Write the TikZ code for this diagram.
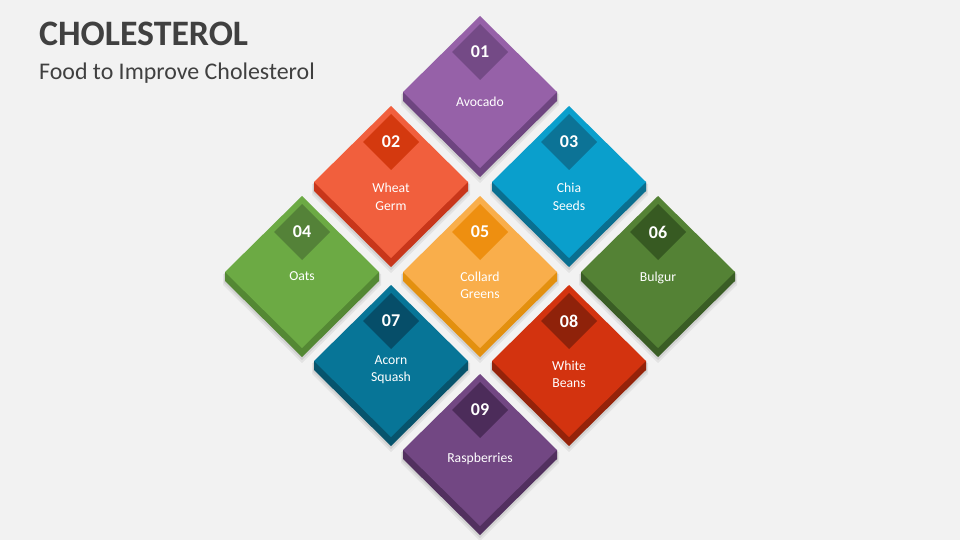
\documentclass[tikz,border=0pt]{standalone}
\usepackage{fontspec}
\setmainfont{Carlito}
\definecolor{bg}{HTML}{F2F2F2}
\definecolor{ttl}{HTML}{404040}
\definecolor{faceA}{HTML}{9661A8}\definecolor{extA}{HTML}{6E4580}\definecolor{smA}{HTML}{744A86}
\definecolor{faceB}{HTML}{F15F3D}\definecolor{extB}{HTML}{C8361A}\definecolor{smB}{HTML}{D4390F}
\definecolor{faceC}{HTML}{0A9FCC}\definecolor{extC}{HTML}{0A6F90}\definecolor{smC}{HTML}{0C7396}
\definecolor{faceD}{HTML}{6CAA44}\definecolor{extD}{HTML}{548834}\definecolor{smD}{HTML}{548238}
\definecolor{faceE}{HTML}{F9AE4B}\definecolor{extE}{HTML}{E3900F}\definecolor{smE}{HTML}{EE8F10}
\definecolor{faceF}{HTML}{548235}\definecolor{extF}{HTML}{3A5D25}\definecolor{smF}{HTML}{375A22}
\definecolor{faceG}{HTML}{077597}\definecolor{extG}{HTML}{07546D}\definecolor{smG}{HTML}{064E69}
\definecolor{faceH}{HTML}{D3330F}\definecolor{extH}{HTML}{95230A}\definecolor{smH}{HTML}{8F220A}
\definecolor{faceI}{HTML}{724783}\definecolor{extI}{HTML}{52305F}\definecolor{smI}{HTML}{4C2C5A}
\tikzset{
  numtext/.style={text=white, inner sep=0pt, font=\bfseries\fontsize{18}{20}\selectfont},
  labtext/.style={text=white, inner sep=0pt, align=center, font=\fontsize{13.7}{17.5}\selectfont},
}
% #1 name, #2 cx, #3 cy, #4 letter, #5 number, #6 label, #7 label dy
\newcommand\foodtile[7]{%
  \begin{scope}[shift={(#2,#3)}]
    \fill[black,opacity=0.06] (-79,2) -- (-79,13) -- (0,91) -- (79,13) -- (79,2) -- cycle;
    \fill[black,opacity=0.08] (-78,1) -- (-78,11) -- (0,88) -- (78,11) -- (78,1) -- cycle;
    \fill[ext#4] (-77,0) -- (-77,9) -- (0,85) -- (77,9) -- (77,0) -- cycle;
    \fill[face#4] (-77,0) -- (0,-76) -- (77,0) -- (0,76) -- cycle;
    \fill[sm#4] (-28,-40) -- (0,-68) -- (28,-40) -- (0,-12) -- cycle;
    \node[numtext] (#1n) at (0,-40) {#5};
    \node[labtext] (#1l) at (0,#7) {#6};
  \end{scope}}
\begin{document}
\begin{tikzpicture}[x=1pt,y=-1pt]
  \fill[bg] (0,0) rectangle (960,540);
  \useasboundingbox (0,0) rectangle (960,540);
  \node[anchor=base west, inner sep=0pt, text=ttl, font=\bfseries\fontsize{35.8}{40}\selectfont] (title) at (39,46) {CHOLESTEROL};
  \node[anchor=base west, inner sep=0pt, text=ttl, font=\fontsize{23.9}{28}\selectfont] (subtitle) at (39,80) {Food to Improve Cholesterol};
  \foodtile{t1}{480}{92}{A}{01}{Avocado}{10}
  \foodtile{t2}{391}{182}{B}{02}{Wheat\\Germ}{15}
  \foodtile{t3}{569}{182}{C}{03}{Chia\\Seeds}{15}
  \foodtile{t4}{302}{272}{D}{04}{Oats}{4}
  \foodtile{t5}{480}{272}{E}{05}{Collard\\Greens}{13.5}
  \foodtile{t6}{658}{272}{F}{06}{Bulgur}{6}
  \foodtile{t7}{391}{361}{G}{07}{Acorn\\Squash}{8.5}
  \foodtile{t8}{569}{361}{H}{08}{White\\Beans}{13.5}
  \foodtile{t9}{480}{450}{I}{09}{Raspberries}{9}
\end{tikzpicture}
\end{document}
